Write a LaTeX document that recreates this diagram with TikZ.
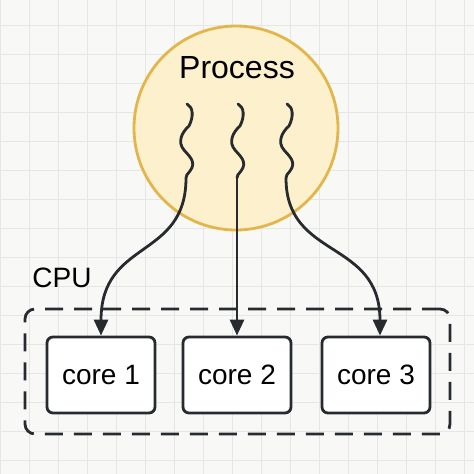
\documentclass[tikz,border=0pt]{standalone}
\usepackage{fontspec}
\setmainfont{Liberation Sans}
\usetikzlibrary{shapes, arrows.meta, positioning}
\definecolor{ink}{HTML}{272B2F}
\definecolor{paper}{HTML}{F8F8F7}
\definecolor{gridgray}{HTML}{E6E6E5}
\definecolor{procfill}{HTML}{FDF0CC}
\definecolor{procline}{HTML}{E2B64A}
\tikzstyle{procnode} = [circle, draw=procline, fill=procfill, line width=2.8pt, minimum size=204pt, inner sep=0pt]
\tikzstyle{corenode} = [rectangle, rounded corners=6pt, draw=ink, fill=white, line width=2.8pt, minimum width=108pt, minimum height=76pt, font=\fontsize{28}{32}\selectfont]
\tikzstyle{cpubox} = [rectangle, rounded corners=10pt, draw=ink, line width=2.8pt, dash pattern=on 18pt off 11pt, minimum width=425pt, minimum height=125pt]
\tikzstyle{thread} = [draw=ink, line width=2.8pt, line cap=round]
\tikzstyle{line} = [draw=ink, line width=2.8pt, -{Triangle[length=16pt, width=14pt]}]

\begin{document}
\begin{tikzpicture}[x=1pt, y=-1pt]
			\useasboundingbox [fill=paper] (0,0) rectangle (474,474);
			\draw [gridgray, line width=1pt, step=29pt, shift={(0,25)}] (0,-25) grid (474,449);
			
			\node [procnode] (proc) at (236,128) {};
			\node [font=\fontsize{32}{38}\selectfont] (proctext) at (237,68) {Process};
			
			\path [thread] (187,104) .. controls (193,107) and (194,116) .. (189,126) .. controls (182,132) and (177,142) .. (184,150) .. controls (189,156) and (197,162) .. (190,171) .. controls (187,175) and (186,175) .. (186,178) coordinate (t1);
			\path [thread] (238,104) .. controls (244,107) and (245,116) .. (240,126) .. controls (233,132) and (228,142) .. (235,150) .. controls (240,156) and (248,162) .. (241,171) .. controls (238,175) and (237,175) .. (237,178) coordinate (t2);
			\path [thread] (287,104) .. controls (293,107) and (294,116) .. (289,126) .. controls (282,132) and (277,142) .. (284,150) .. controls (289,156) and (297,162) .. (290,171) .. controls (287,175) and (286,175) .. (286,178) coordinate (t3);
			
			\node [cpubox] (cpu) at (237.5,371.5) {};
			\node [font=\fontsize{28}{32}\selectfont] (cputext) at (62,278) {CPU};
			
			\node [corenode] (c1) at (101,375) {core 1};
			\node [corenode] (c2) at (237,375) {core 2};
			\node [corenode] (c3) at (376,375) {core 3};
			
			\path [line] (t1) .. controls +(0,82) and +(0,-97) .. (c1.north);
			\path [line] (t2) -- (c2.north);
			\path [line] (t3) .. controls +(0,82) and +(0,-97) .. ([xshift=4pt]c3.north);
		\end{tikzpicture}
\end{document}
